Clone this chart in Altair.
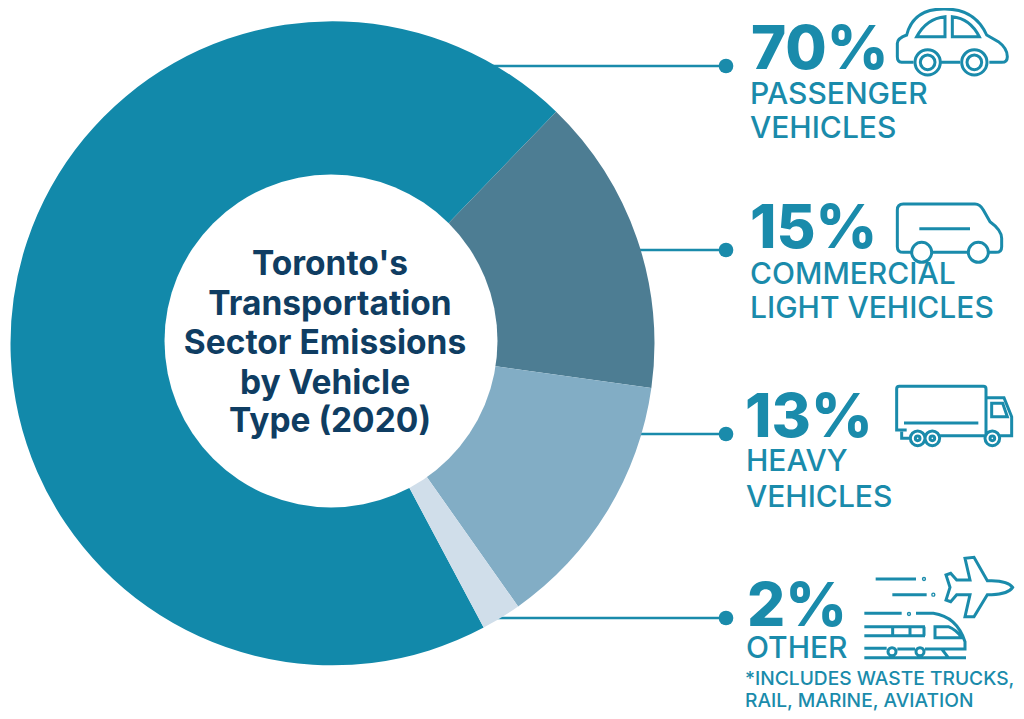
import math
import altair as alt
import pandas as pd

# ---- data
categories = ["Passenger vehicles", "Commercial light vehicles", "Heavy vehicles", "Other"]
shares = [70, 15, 13, 2]
slice_colors = ["#1289aa", "#4d7d93", "#82adc5", "#d0deea"]
percent_labels = ["70%", "15%", "13%", "2%"]
label_lines = [
    ["PASSENGER", "VEHICLES"],
    ["COMMERCIAL", "LIGHT VEHICLES"],
    ["HEAVY", "VEHICLES"],
    ["OTHER"],
]
note_lines = ["*INCLUDES WASTE TRUCKS,", "RAIL, MARINE, AVIATION"]
title_lines = ["Toronto's", "Transportation", "Sector Emissions", "by Vehicle", "Type (2020)"]

# ---- layout (page pixels; the page margin is subtracted in P)
TEAL = "#1a8bab"
NAVY = "#0f3d62"
FONT = "Inter"
M = 8
CX, CY = 332.5, 343.3
START = math.radians(152)


def P(v):
    return v - M


def circ(cx, cy, r):
    return f"M{cx-r},{cy}a{r},{r} 0 1,0 {2*r},0a{r},{r} 0 1,0 {-2*r},0Z"


df = pd.DataFrame({"cat": categories, "share": shares, "i": range(4)})
layers = []

# leader lines, beneath the ring
lead_y = [66, 250, 434, 618]
lead_x0 = [480, 620, 620, 480]
for y, x0 in zip(lead_y, lead_x0):
    layers.append(alt.Chart(df.head(1)).mark_rule(color=TEAL, strokeWidth=2.5).encode(
        x=alt.value(P(x0)), x2=alt.value(P(726)), y=alt.value(P(y))))
    layers.append(alt.Chart(df.head(1)).mark_point(filled=True, color=TEAL, opacity=1, size=215).encode(
        x=alt.value(P(726)), y=alt.value(P(y))))

ring = alt.Chart(df).mark_arc(radius=322, radius2=100).encode(
    x=alt.value(P(CX)), y=alt.value(P(CY)),
    theta=alt.Theta("share:Q", stack=True,
                    scale=alt.Scale(domain=[0, 100], range=[START, START + 2 * math.pi])),
    order=alt.Order("i:Q"),
    color=alt.Color("cat:N", sort=categories, legend=None,
                    scale=alt.Scale(domain=categories, range=slice_colors)),
)
layers.append(ring)
# the hole sits slightly off the ring's centre in the reference
layers.append(alt.Chart(df.head(1)).mark_point(filled=True, color="white", opacity=1, size=333 ** 2).encode(
    x=alt.value(P(331)), y=alt.value(P(341))))


def text(s, x, y, size, color=TEAL, weight=500, align="left"):
    layers.append(alt.Chart(df.head(1)).mark_text(
        text=s, font=FONT, fontSize=size, fontWeight=weight, color=color,
        align=align, baseline="alphabetic").encode(x=alt.value(P(x)), y=alt.value(P(y))))


# centre title
title_pos = [(330, 275), (330, 315), (325, 354), (325, 394), (330, 432)]
for s, (x, y) in zip(title_lines, title_pos):
    text(s, x, y, 33.5, NAVY, 700, "center")

# percentages
pct_pos = [(751, 69), (750, 248), (745, 437), (747, 626)]
for s, (x, y) in zip(percent_labels, pct_pos):
    text(s, x, y, 60, TEAL, 800)

# labels
label_pos = [[(750, 104), (750, 138)], [(750, 284), (750, 318)], [(746, 471), (746, 507)], [(746, 658)]]
for lines, poss in zip(label_lines, label_pos):
    for s, (x, y) in zip(lines, poss):
        text(s, x, y, 30, TEAL, 500)
for s, (x, y) in zip(note_lines, [(745, 685), (745, 707)]):
    text(s, x, y, 19.2, TEAL, 500)

# icons: outlines drawn at 3x in a local box, placed by the box origin
car = ("M640,187L605,187Q592,185 592,170L592,130Q592,115 620,105Q640,25 735,27Q825,27 860,105"
       "L895,125Q922,145 922,170Q922,187 905,187L868,187M725,187L780,187"
       "M650,110L735,110L735,50Q680,55 650,110Z M757,50L757,110L838,110Q810,55 757,50Z"
       + circ(683, 187, 38) + circ(683, 187, 22) + circ(823, 187, 38) + circ(823, 187, 22))
van = ("M635,187L610,187Q592,187 592,170L592,60Q592,42 610,42L825,42Q840,42 850,60L870,95"
       "Q905,120 905,145L905,170Q905,187 888,187L865,187M695,187L805,187M658,116L810,116"
       + circ(665, 187, 30) + circ(835, 187, 30))
truck = ("M620,165L590,165L590,42Q590,34 598,34L850,34Q858,34 858,42L858,182"
         "M858,68L912,68L935,125L935,182L900,182M720,182L855,182"
         "M875,85L908,85L922,125L875,125ZM612,144L835,144M605,170L605,190L630,190"
         + circ(653, 190, 22) + circ(653, 190, 7) + circ(697, 190, 22) + circ(697, 190, 7)
         + circ(877, 190, 22) + circ(877, 190, 7))
plane = ("M527,102L648,102M577,149L680,149" + circ(672, 102, 2) + circ(700, 149, 2)
         + "M938,127Q925,108 875,107L862,107L822,37L795,40L810,105L770,105L752,85L738,90L750,127"
           "L738,165L752,170L770,149L810,149L795,215L822,215L862,149L875,149Q925,147 938,127Z")
train = ("M493,205L605,205M648,205L700,205Q770,215 795,290L795,312L725,312L745,338"
         "M493,245L675,245M493,272L675,272M578,245L578,272M630,245L630,272M672,245L672,272"
         "M705,245L745,245Q770,255 785,278L705,278ZM493,310L560,310M592,312L645,312M675,312L725,312"
         "M493,338L798,338" + circ(627, 207, 2) + circ(576, 320, 12) + circ(660, 320, 12))

icons = [(car, 700, 0), (van, 700, 190), (truck, 700, 375), (plane, 700, 545), (train, 700, 545)]
for path, ox, oy in icons:
    layers.append(alt.Chart(df.head(1)).mark_point(
        shape=path, size=4 / 9, stroke=TEAL, strokeWidth=3, opacity=1).encode(
        x=alt.value(P(ox)), y=alt.value(P(oy))))

chart = alt.layer(*layers).properties(
    width=1008, height=703, padding=0, background="white",
    autosize=alt.AutoSizeParams(type="none"),
).configure_view(stroke=None)

chart.save("out.html", embed_options={"renderer": "svg", "actions": False})
